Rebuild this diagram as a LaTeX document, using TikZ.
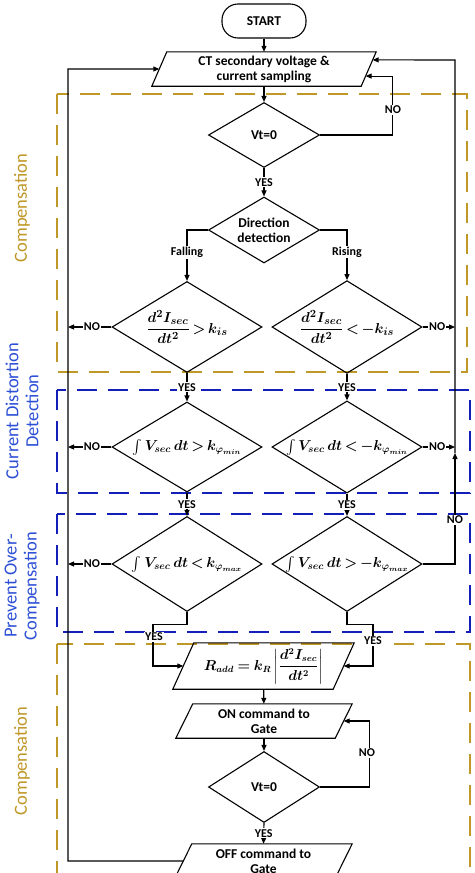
\documentclass[tikz,border=0pt]{standalone}
\usepackage{amsmath}
\usepackage{fontspec}
\setmainfont{Carlito}
\usetikzlibrary{shapes.geometric,arrows.meta,calc}
\definecolor{gold}{RGB}{192,152,40}
\definecolor{bluedash}{RGB}{20,30,185}
\definecolor{bluetext}{RGB}{45,80,215}
\newcommand\drawpara[2]{\draw[shapeline] ([xshift=#2pt]#1.north west) -- (#1.north east) -- ([xshift=-#2pt]#1.south east) -- (#1.south west) -- cycle;}
\begin{document}
\begin{tikzpicture}[x=1pt,y=-1pt,
  shapeline/.style={line width=1.1pt},
  nodefont/.style={font=\bfseries\fontsize{13.5}{15}\selectfont},
  term/.style={draw, line width=1.1pt, rounded corners=16pt, minimum width=84pt, minimum height=34pt, nodefont},
  io/.style 2 args={rectangle, inner sep=0pt, minimum width=#1pt, minimum height=#2pt, align=center, nodefont},
  dec/.style 2 args={diamond, draw, line width=1.1pt, inner sep=0pt, aspect=1.6, minimum width=#1pt, minimum height=#2pt, align=center, nodefont},
  fracmath/.style={font=\fontsize{15.5}{17}\selectfont\boldmath, execute at begin node={\thickmuskip=3mu plus 2mu\medmuskip=2mu}},
  addmath/.style={font=\fontsize{13.5}{15}\selectfont\boldmath, execute at begin node={\thickmuskip=4mu plus 2mu\medmuskip=2mu}},
  intmath/.style={font=\fontsize{14}{16}\selectfont\boldmath, execute at begin node={\thickmuskip=3mu plus 2mu\medmuskip=2mu}},
  lbl/.style={fill=white, inner sep=1pt, font=\bfseries\fontsize{12}{14}\selectfont},
  arr/.style={line width=1.1pt, -{Triangle[length=6pt,width=5pt]}},
  goldbox/.style={draw=gold, line width=2.4pt, dash pattern=on 20pt off 11pt},
  bluebox/.style={draw=bluedash, line width=2.4pt, dash pattern=on 20pt off 11pt},
  sidegold/.style={rotate=90, text=gold, font=\fontsize{18.5}{20}\selectfont},
  sideblue/.style={rotate=90, text=bluetext, align=center, font=\fontsize{18.5}{20}\selectfont}
]
\useasboundingbox (0,0) rectangle (474,873);
\fill[white] (0,0) rectangle (474,873);

% dashed region boxes
\draw[goldbox] (57,94) rectangle (467,372);
\draw[bluebox] (57,390) rectangle (470,493);
\draw[bluebox] (57,514) rectangle (470,632);
\draw[goldbox] (57,644) rectangle (470,890);

% side labels
\node[sidegold] (lab1) at (22,208) {Compensation};
\node[sideblue] (lab2) at (22,411) {Current Distortion\\Detection};
\node[sideblue] (lab3) at (22,586) {Prevent Over-\\Compensation};
\node[sidegold] (lab4) at (22,761) {Compensation};

% nodes
\node[term] (start) at (264,21) {START};
\node[io={224}{34}] (p1) at (264,69) {CT secondary voltage \&\\current sampling};
\drawpara{p1}{15}
\node[dec={111}{65}] (d1) at (264,135) {Vt=0};
\node[dec={111}{66}] (d2) at (264,230) {Direction\\detection};
\node[dec={150}{91},fracmath] (d3) at (187,327) {$\displaystyle\frac{d^2I_{sec}}{dt^2}>k_{is}$};
\node[dec={150}{91},fracmath] (d4) at (347,327) {$\displaystyle\frac{d^2I_{sec}}{dt^2}<-k_{is}$};
\node[dec={150}{90},intmath] (d5) at (187,447) {$\int V_{sec}\,dt>k_{\varphi_{min}}$};
\node[dec={150}{90},intmath] (d6) at (347,447) {$\int V_{sec}\,dt<-k_{\varphi_{min}}$};
\node[dec={150}{95},intmath] (d7) at (187,564) {$\int V_{sec}\,dt<k_{\varphi_{max}}$};
\node[dec={150}{95},intmath] (d8) at (347,564) {$\int V_{sec}\,dt>-k_{\varphi_{max}}$};
\node[io={181}{46},addmath] (p2) at (263.5,666) {$\displaystyle R_{add}=k_R\left|\frac{d^2I_{sec}}{dt^2}\right|$};
\drawpara{p2}{21}
\node[io={176}{34}] (p3) at (264,721) {ON command to\\Gate};
\drawpara{p3}{17}
\node[dec={111}{71}] (d9) at (264,787) {Vt=0};
\node[io={177}{34}] (p4) at (263.5,861) {OFF command to\\Gate};
\drawpara{p4}{17}

% helper points on slanted sides
\coordinate (p1L) at ($(p1.south west)!.5!([xshift=15pt]p1.north west)$);
\coordinate (p1Ra) at ($(p1.north east)!{8/34}!([xshift=-15pt]p1.south east)$);
\coordinate (p1Rb) at ($(p1.north east)!{24/34}!([xshift=-15pt]p1.south east)$);
\coordinate (p2L) at ($(p2.south west)!.5!([xshift=21pt]p2.north west)$);
\coordinate (p2R) at ($(p2.north east)!.5!([xshift=-21pt]p2.south east)$);
\coordinate (p3R) at ($(p3.north east)!.5!([xshift=-17pt]p3.south east)$);
\coordinate (p4L) at ($(p4.south west)!.5!([xshift=17pt]p4.north west)$);
\coordinate (lt) at (68,69);
\coordinate (lb) at (68,861);
\coordinate (rt) at (455,60);
\coordinate (rb) at (455,453);

% connectors
\draw[arr] (start) -- (p1);
\draw[arr] (p1) -- (d1);
\draw[arr] (d1.east) -- ++(72,0) |- (p1Rb);
\node[lbl] (no1) at (393,110) {NO};
\draw[arr] (d1.south) -- (d2.north) node[lbl,midway] (yes1) {YES};
\draw[arr] (d2.west) -| (d3.north) node[lbl,pos=0.72] (fall) {Falling};
\draw[arr] (d2.east) -| (d4.north) node[lbl,pos=0.72] (rise) {Rising};
\draw[arr] (d3.west) -- (d3.west -| lt) node[lbl,pos=0.45] (no3) {NO};
\draw[arr] (d4.east) -- (d4.east -| rt) node[lbl,pos=0.45] (no4) {NO};
\draw[arr] (d3.south) -- (d5.north) node[lbl,midway] (yes3) {YES};
\draw[arr] (d4.south) -- (d6.north) node[lbl,midway] (yes4) {YES};
\draw[arr] (d5.west) -- (d5.west -| lt) node[lbl,pos=0.45] (no5) {NO};
\draw[arr] (d6.east) -- (d6.east -| rt) node[lbl,pos=0.45] (no6) {NO};
\draw[arr] (d5.south) -- (d7.north) node[lbl,midway] (yes5) {YES};
\draw[arr] (d6.south) -- (d8.north) node[lbl,midway] (yes6) {YES};
\draw[arr] (d7.west) -- (d7.west -| lt) node[lbl,pos=0.45] (no7) {NO};
\draw[arr] (d8.east) -| (rb) node[lbl,pos=0.7] (no8) {NO};
\draw[arr] (d7.south) -- ++(0,12) -- ++(-34,0) |- (p2L);
\node[lbl] (yes7) at (154,637) {YES};
\draw[arr] (d8.south) -- ++(0,12) -- ++(26,0) |- (p2R);
\node[lbl] (yes8) at (373,641) {YES};
\draw[arr] (p2) -- (p3);
\draw[arr] (p3) -- (d9);
\draw[arr] (d9.east) -- ++(49,0) |- (p3R);
\node[lbl] (no9) at (367,753) {NO};
\draw[arr] (d9.south) -- (p4.north) node[lbl,midway] (yes9) {YES};
\draw[arr] (p4L) -- (lb) -- (lt) -- (p1L);
\draw[arr] (rb) -- (rt) -- (p1Ra);
\end{tikzpicture}
\end{document}
